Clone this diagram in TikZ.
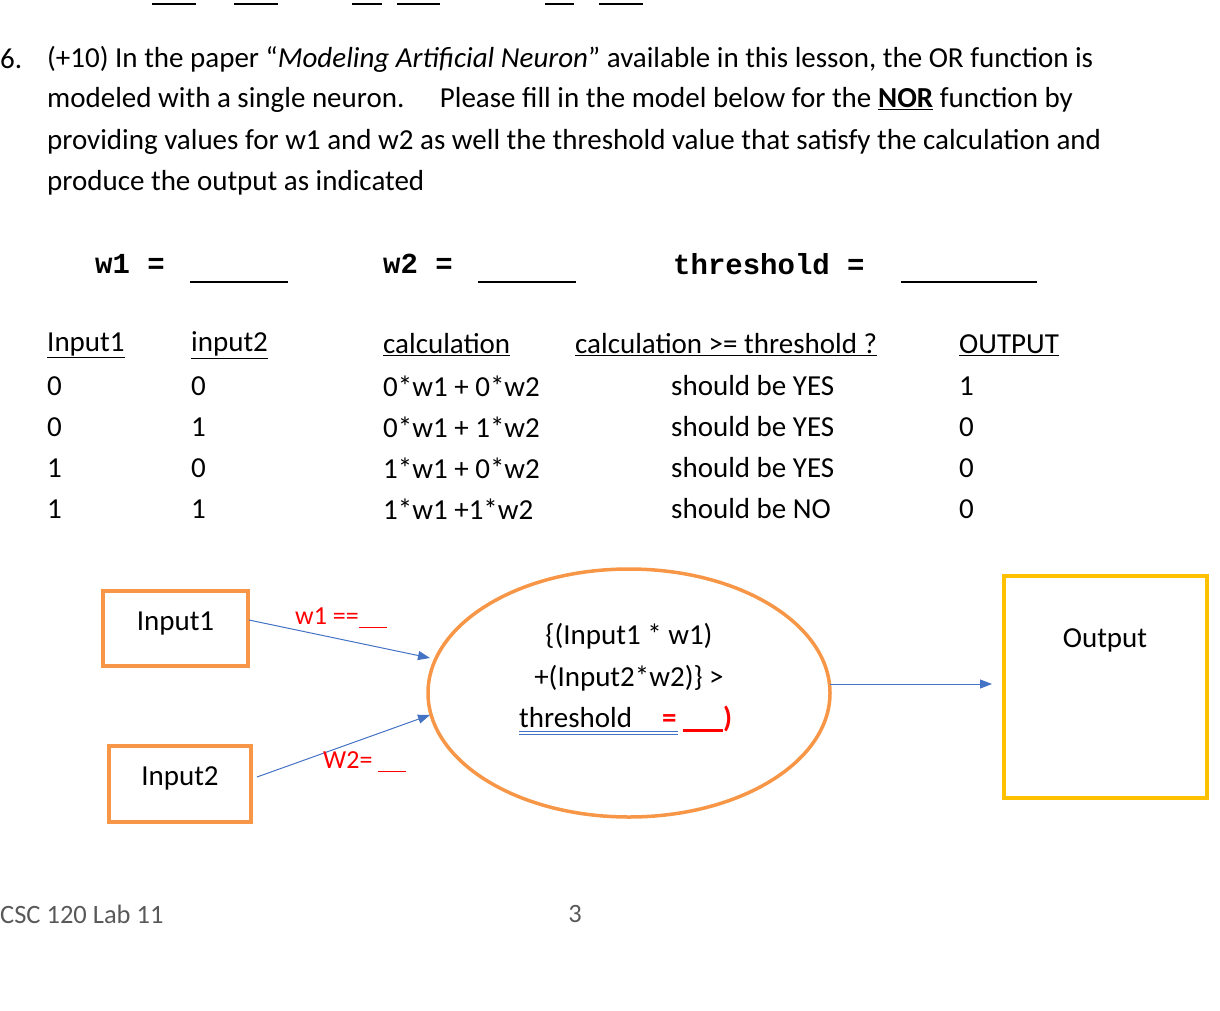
\documentclass[tikz,border=0pt]{standalone}
\usepackage{fontspec}
\setmainfont{Carlito}
\newfontfamily\mono{Liberation Mono}
\usetikzlibrary{arrows.meta}
\definecolor{org}{HTML}{F79646}
\definecolor{yel}{HTML}{FFC000}
\definecolor{blu}{HTML}{4472C4}
\begin{document}
\begin{tikzpicture}[x=1pt,y=-1pt,
 t/.style={anchor=west,inner sep=0pt,font=\fontsize{29}{34}\selectfont},
 hd/.style={anchor=west,inner sep=0pt,font=\fontsize{29}{32}\mono\bfseries},
 red/.style={anchor=west,inner sep=0pt,text=red,font=\fontsize{26}{30}\selectfont},
 box/.style={draw=org,line width=3.5pt},
 arr/.style={draw=blu,line width=1pt,-{Triangle[length=12pt,width=9pt]}}]
\useasboundingbox (0,0) rectangle (1220,1010);
\foreach \a/\b in {152/196,234/278,352/382,397/440,545/574,599/643}
  \draw[line width=2pt] (\a,4) -- (\b,4);
\node[t] (n6) at (0,59) {6.};
\node[t] (l1) at (47,59) {(+10) In the paper “\textit{Modeling Artificial Neuron}” available in this lesson, the OR function is};
\node[t] (l2) at (47,100) {modeled with a single neuron.\quad\ Please fill in the model below for the \underline{\textbf{NOR}} function by};
\node[t] (l3) at (47,142) {providing values for w1 and w2 as well the threshold value that satisfy the calculation and};
\node[t] (l4) at (47,183) {produce the output as indicated};
\node[hd] (h1) at (95,264) {w1 =};
\node[hd] (h2) at (383,264) {w2 =};
\node[hd] (h3) at (673,264) {threshold =};
\draw[line width=1.5pt] (190,282) -- (288,282) (478,282) -- (576,282) (901,282) -- (1037,282);
\node[t] (c1) at (47,345) {\underline{Input1}};
\node[t] (c2) at (191,345) {\underline{input2}};
\node[t] (c3) at (383,345) {\underline{calculation}};
\node[t] (c4) at (575,345) {\underline{calculation >= threshold ?}};
\node[t] (c5) at (959,345) {\underline{OUTPUT}};
\foreach \y/\a/\b/\c/\d/\e in {386/0/0/0*w1 + 0*w2/YES/1,427/0/1/0*w1 + 1*w2/YES/0,468/1/0/1*w1 + 0*w2/YES/0,509/1/1/1*w1 +1*w2/NO/0}{
 \node[t] at (47,\y) {\a};
 \node[t] at (191,\y) {\b};
 \node[t] at (383,\y) {\c};
 \node[t] at (671,\y) {should be \d};
 \node[t] at (959,\y) {\e};}
\draw[box] (103,591) rectangle (248,666);
\node[t,anchor=center] (in1) at (175.5,623) {Input1};
\coordinate (in1e) at (249,620);
\draw[box] (109,746) rectangle (251,822);
\node[t,anchor=center] (in2) at (180,778) {Input2};
\coordinate (in2e) at (257,777);
\draw[draw=yel,line width=3.5pt] (1004,576) rectangle (1207,798);
\node[t,anchor=center] (out) at (1105,640) {Output};
\coordinate (oute) at (992,684);
\draw[org,line width=3.5pt] (629,693) ellipse [x radius=201,y radius=124];
\coordinate (e1) at (430,658);
\coordinate (e2) at (430,715);
\coordinate (e3) at (830,684);
\node[t,anchor=center] (f1) at (629,636) {\{(Input1 * w1)};
\node[t,anchor=center] (f2) at (629,678) {+(Input2*w2)\} >};
\node[t] (f3) at (519,719) {threshold\hspace{30pt}{\color{red}\textbf{=\ \rule[-4pt]{40pt}{2.5pt})}}};
\draw[blu,line width=0.8pt] (519,731) -- (678,731) (519,734) -- (678,734);
\draw[arr] (in1e) -- (e1);
\draw[arr] (in2e) -- (e2);
\draw[arr] (e3) -- (oute);
\node[red] (w1l) at (295,618) {w1 ==\rule[-4pt]{28pt}{1.5pt}};
\node[red] (w2l) at (323,762) {W2= \rule[-4pt]{28pt}{1.5pt}};
\node[anchor=west,inner sep=0pt,text=black!65,font=\fontsize{26.5}{30}\selectfont] (ft) at (0,914) {CSC 120 Lab 11};
\node[anchor=center,inner sep=0pt,text=black!65,font=\fontsize{26.5}{30}\selectfont] (pg) at (575,914) {3};
\end{tikzpicture}
\end{document}
